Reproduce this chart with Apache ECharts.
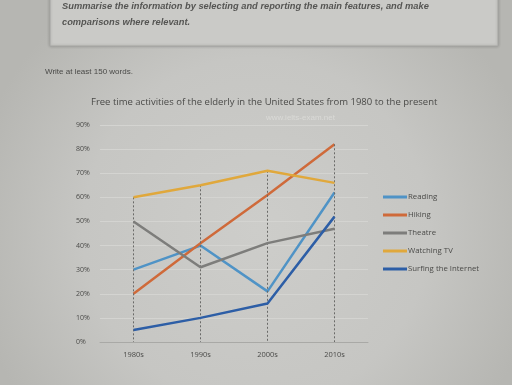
<!DOCTYPE html>
<html><head><meta charset="utf-8">
<script src="https://cdn.jsdelivr.net/npm/echarts@6/dist/echarts.min.js"></script>
<style>html,body{margin:0;padding:0;background:#bdbdb9;}#c{width:512px;height:385px;}</style>
</head><body><div id="c"></div>
<script>
var categories = ['1980s', '1990s', '2000s', '2010s'];
var reading = [30, 40, 21, 62];
var hiking = [20, 41, 61, 82];
var theatre = [50, 31, 41, 47];
var watchingTV = [60, 65, 71, 66];
var surfing = [5, 10, 16, 52];
var seriesNames = ['Reading', 'Hiking', 'Theatre', 'Watching TV', 'Surfing the Internet'];
var yTicks = [0, 10, 20, 30, 40, 50, 60, 70, 80, 90];

var allData = [reading, hiking, theatre, watchingTV, surfing];
var colors = ['#4f93c6', '#cf6a3a', '#7d7d7b', '#e0a83c', '#2d5ea6'];
var dropData = [];
categories.forEach(function (c, i) {
  var m = Math.max.apply(null, allData.map(function (d) { return d[i]; }));
  dropData.push([{ coord: [i, m] }, { coord: [i, 0] }]);
});

var chart = echarts.init(document.getElementById('c'));
var series = allData.map(function (d, k) {
  return {
    name: seriesNames[k], type: 'line', data: d, symbol: 'none',
    lineStyle: { color: colors[k], width: 2.5 }, itemStyle: { color: colors[k] },
    z: 3 + k
  };
});
series[0].markLine = {
  silent: true, symbol: 'none', label: { show: false },
  lineStyle: { color: '#6a6a68', type: [2, 2], width: 1 },
  data: dropData
};
chart.setOption({
  backgroundColor: {
    type: 'radial', x: 0.5, y: 0.6, r: 0.75,
    colorStops: [{ offset: 0, color: '#cdcdca' }, { offset: 0.6, color: '#c6c6c3' }, { offset: 1, color: '#b6b6b2' }]
  },
  animation: false,
  graphic: [
    { type: 'rect', shape: { x: 50, y: -5, width: 448, height: 51 },
      style: { fill: '#cacac7', stroke: '#a6a6a3', lineWidth: 1, shadowBlur: 3, shadowColor: 'rgba(0,0,0,0.2)' }, z: 0 },
    { type: 'text', left: 62, top: 2, style: { text: 'Summarise the information by selecting and reporting the main features, and make',
      font: 'italic bold 9.3px "Liberation Sans", Arial', fill: '#555553' } },
    { type: 'text', left: 62, top: 18, style: { text: 'comparisons where relevant.',
      font: 'italic bold 9.3px "Liberation Sans", Arial', fill: '#555553' } },
    { type: 'text', left: 45, top: 68, style: { text: 'Write at least 150 words.',
      font: '8px "Liberation Sans", Arial', fill: '#4a4a48' } },
    { type: 'text', left: 91, top: 97, style: { text: 'Free time activities of the elderly in the United States from 1980 to the present',
      font: '9.5px "Open Sans", "Noto Sans", sans-serif', fill: '#4a4a48' } },
    { type: 'text', left: 266, top: 114, style: { text: 'www.ielts-exam.net',
      font: '8px "Liberation Sans", Arial', fill: '#dadad7' } }
  ],
  legend: {
    orient: 'vertical', left: 378, top: 188, itemGap: 10,
    itemWidth: 24, itemHeight: 3, icon: 'rect',
    textStyle: { fontSize: 7.8, color: '#4a4a48', fontFamily: '"Open Sans", sans-serif', padding: [0, 0, 0, -4] },
    data: seriesNames
  },
  grid: { left: 100, right: 144, top: 125, bottom: 43 },
  xAxis: {
    type: 'category', data: categories, boundaryGap: true,
    axisLine: { show: true, lineStyle: { color: '#a9a9a6' } },
    axisTick: { show: false },
    axisLabel: { color: '#4a4a48', fontSize: 7.5, margin: 9, fontFamily: '"Open Sans", sans-serif' }
  },
  yAxis: {
    type: 'value', min: yTicks[0], max: yTicks[yTicks.length - 1], interval: 10,
    axisLine: { show: false }, axisTick: { show: false },
    splitLine: { lineStyle: { color: '#d4d4d1', width: 1 } },
    axisLabel: { color: '#4a4a48', fontSize: 7, margin: 12, align: 'left',
      padding: [0, 0, 0, -12], formatter: '{value}%', fontFamily: '"Open Sans", sans-serif' }
  },
  series: series
});
</script></body></html>
